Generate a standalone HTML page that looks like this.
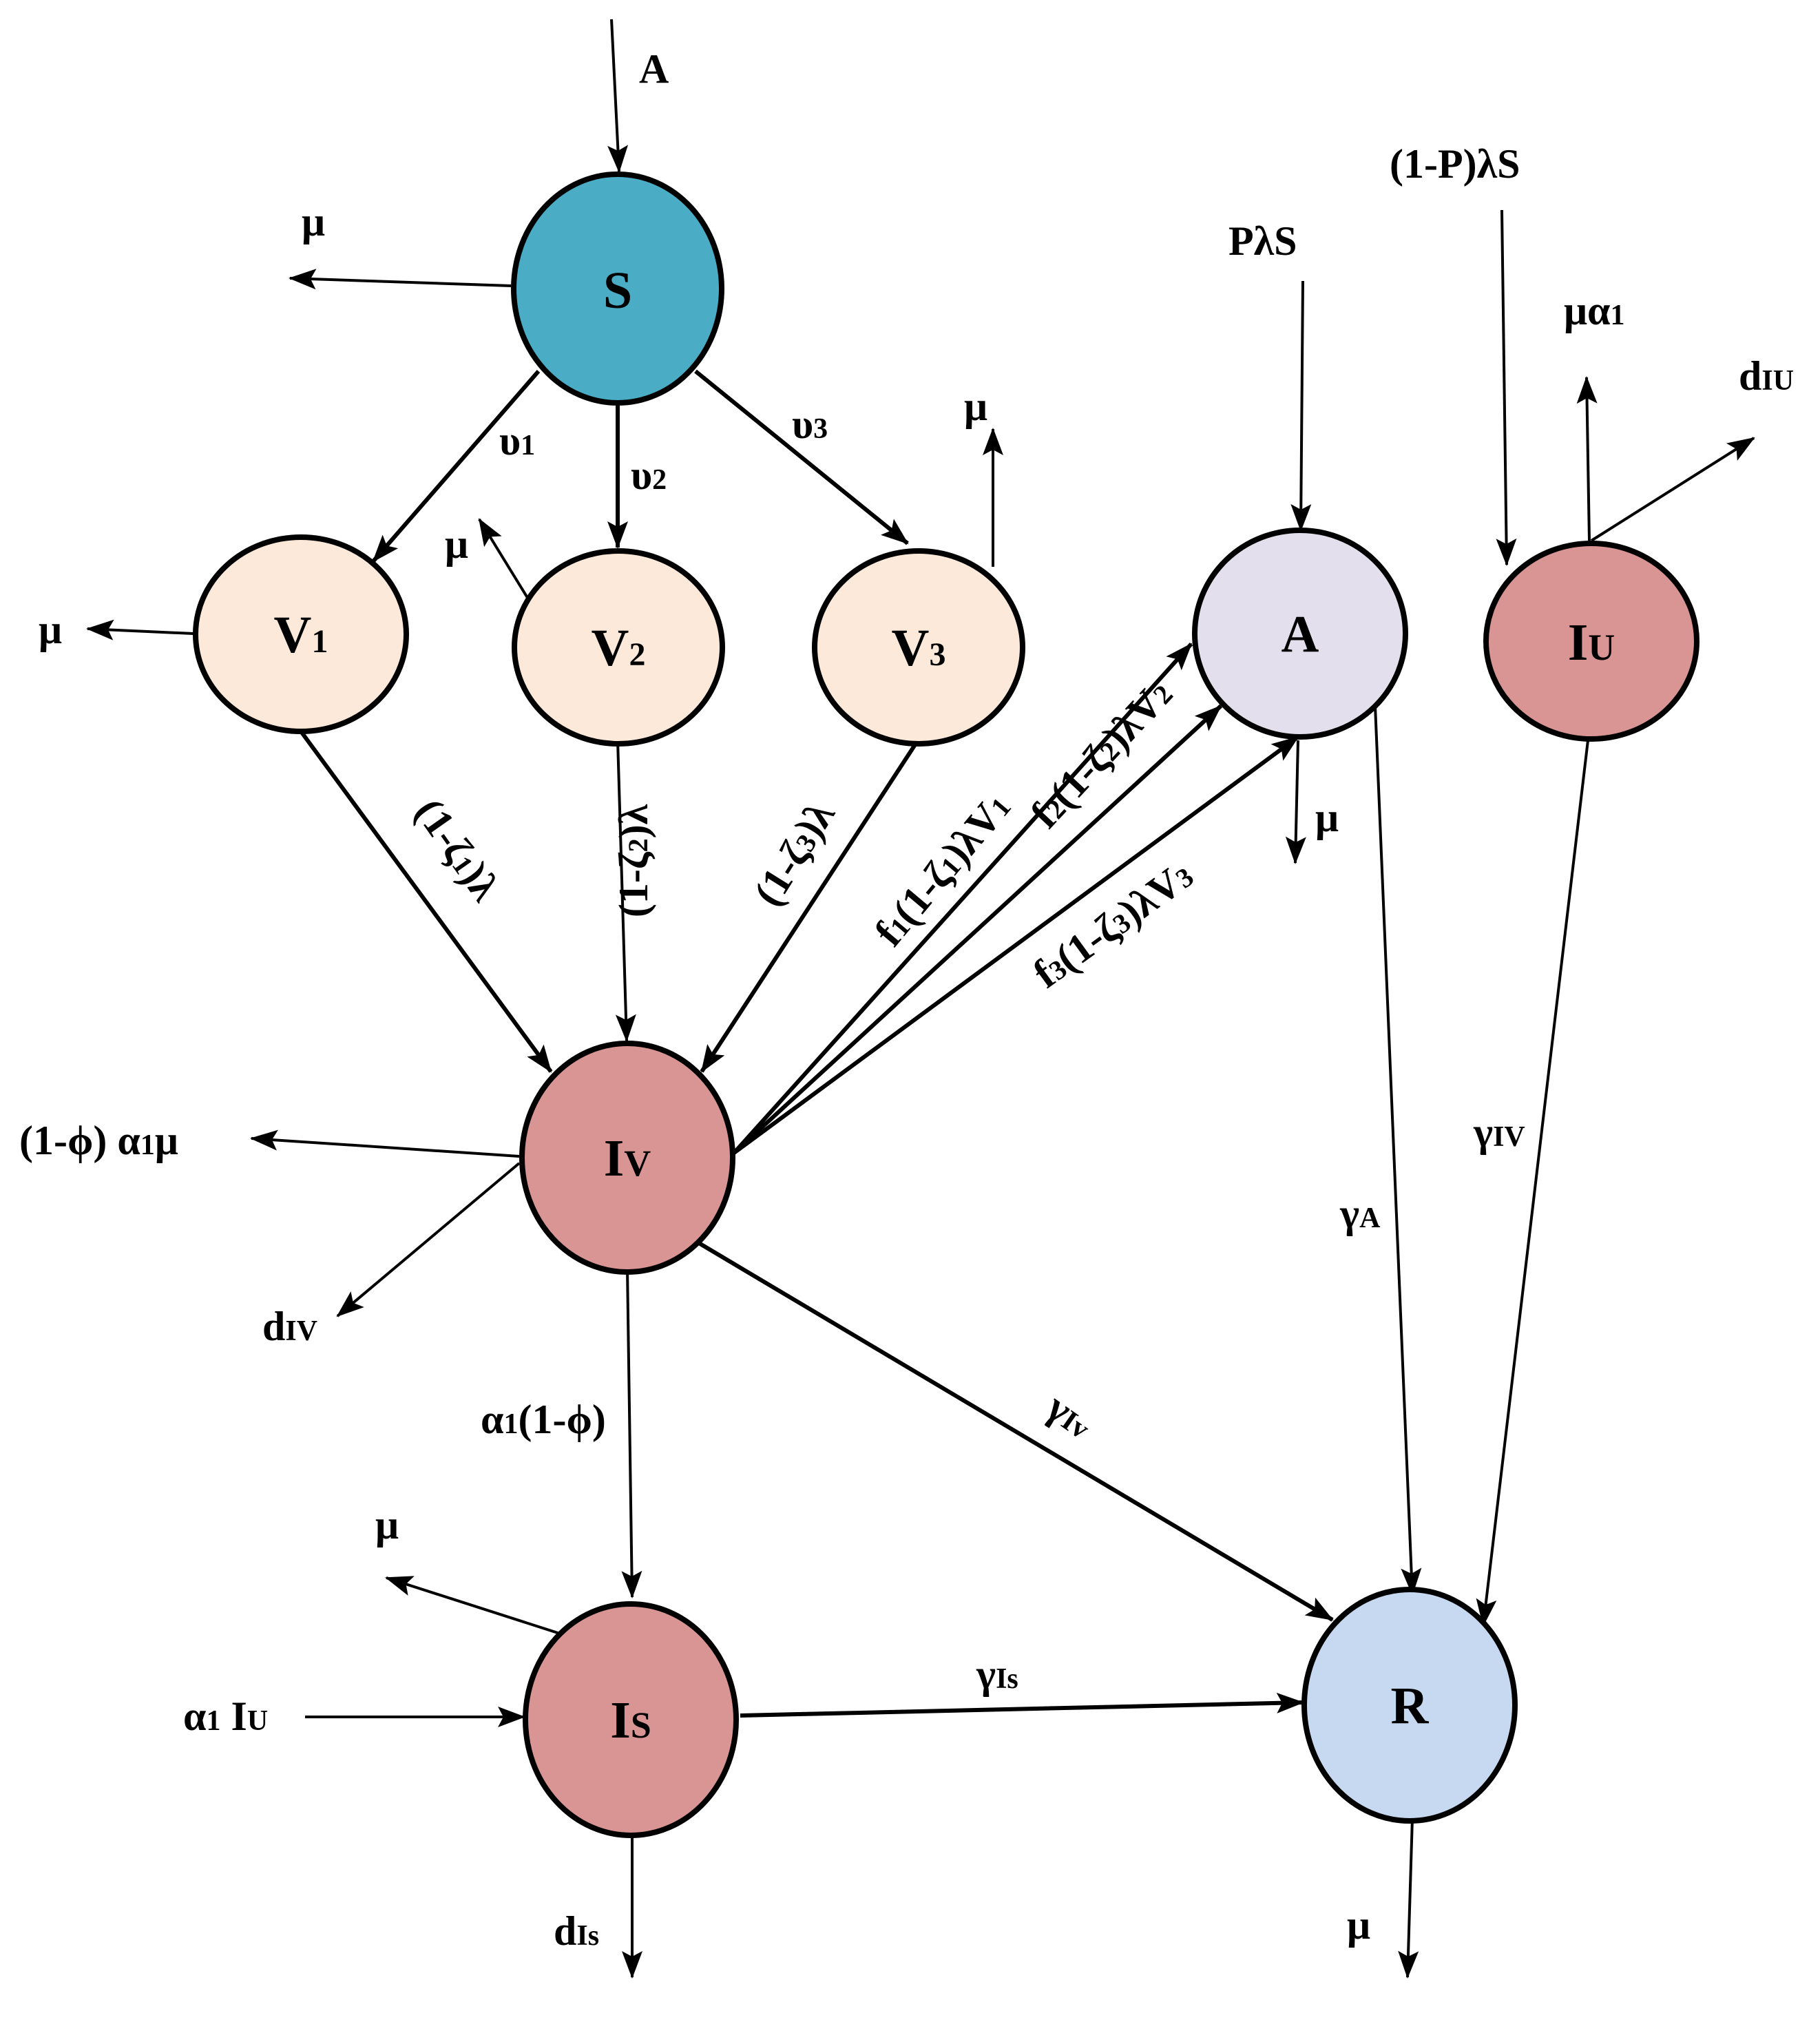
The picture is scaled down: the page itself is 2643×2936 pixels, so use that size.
<!DOCTYPE html>
<html><head><meta charset="utf-8"><style>
html,body{margin:0;padding:0;background:#fff}
svg{display:block}
text{font-family:"Liberation Serif",serif;font-weight:bold;fill:#000}
.n{font-size:76px}
.l{font-size:60px}
</style></head><body>
<svg width="2643" height="2936" viewBox="0 0 2643 2936" xmlns="http://www.w3.org/2000/svg">
<defs>
<marker id="a" markerUnits="userSpaceOnUse" markerWidth="40" markerHeight="30" refX="38" refY="15" orient="auto">
<path d="M0,0 L40,15 L0,30 L8,15 Z" fill="#000"/>
</marker>
</defs>
<g stroke="#000" fill="none" marker-end="url(#a)">
<g stroke-width="4">
<line x1="888" y1="28" x2="899" y2="249"/>
<line x1="742" y1="415" x2="421" y2="404"/>
<line x1="281" y1="920" x2="127" y2="913"/>
<line x1="782" y1="894" x2="696" y2="754"/>
<line x1="1442" y1="823" x2="1442" y2="623"/>
<line x1="1892" y1="408" x2="1889" y2="770"/>
<line x1="2181" y1="305" x2="2188" y2="820"/>
<line x1="2308" y1="785" x2="2304" y2="548"/>
<line x1="2311" y1="785" x2="2547" y2="636"/>
<line x1="1885" y1="1075" x2="1881" y2="1253"/>
<line x1="1997" y1="1025" x2="2051" y2="2315"/>
<line x1="2306" y1="1075" x2="2154" y2="2360"/>
<line x1="754" y1="1679" x2="365" y2="1653"/>
<line x1="754" y1="1689" x2="490" y2="1911"/>
<line x1="911" y1="1842" x2="918" y2="2319"/>
<line x1="810" y1="2371" x2="561" y2="2291"/>
<line x1="443" y1="2493" x2="761" y2="2493"/>
<line x1="918" y1="2660" x2="918" y2="2871"/>
<line x1="2051" y1="2640" x2="2044" y2="2871"/>
<line x1="897" y1="1075" x2="910" y2="1511"/>
</g>
<g stroke-width="6">
<line x1="782" y1="539" x2="542" y2="815"/>
<line x1="897" y1="583" x2="897" y2="795"/>
<line x1="1010" y1="539" x2="1318" y2="789"/>
<line x1="437" y1="1062" x2="800" y2="1556"/>
<line x1="1333" y1="1075" x2="1019" y2="1556"/>
<line x1="1066" y1="1674" x2="1730" y2="935"/>
<line x1="1066" y1="1674" x2="1773" y2="1025"/>
<line x1="1066" y1="1674" x2="1885" y2="1070"/>
<line x1="1015" y1="1805" x2="1935" y2="2352"/>
<line x1="1075" y1="2491" x2="1892" y2="2472"/>
</g>
</g>
<g stroke="#000" stroke-width="8">
<ellipse cx="897" cy="419" rx="151" ry="166" fill="#4bacc6"/>
<ellipse cx="437" cy="921" rx="153" ry="141" fill="#fde9d9"/>
<ellipse cx="898" cy="940" rx="151" ry="140" fill="#fde9d9"/>
<ellipse cx="1334" cy="940" rx="151" ry="140" fill="#fde9d9"/>
<ellipse cx="1888" cy="920" rx="153" ry="150" fill="#e4dfec"/>
<ellipse cx="2311" cy="931" rx="153" ry="142" fill="#d99594"/>
<ellipse cx="911" cy="1681" rx="153" ry="166" fill="#d99594"/>
<ellipse cx="916" cy="2497" rx="153" ry="168" fill="#d99594"/>
<ellipse cx="2047" cy="2476" rx="153" ry="168" fill="#c6d9f0"/>
</g>
<g class="n" text-anchor="middle">
<text x="897" y="447">S</text>
<text x="437" y="947">V<tspan font-size="48">1</tspan></text>
<text x="898" y="966">V<tspan font-size="48">2</tspan></text>
<text x="1334" y="966">V<tspan font-size="48">3</tspan></text>
<text x="1888" y="946">A</text>
<text x="2311" y="958">I<tspan font-size="54">U</tspan></text>
<text x="911" y="1707">I<tspan font-size="54">V</tspan></text>
<text x="916" y="2523">I<tspan font-size="54">S</tspan></text>
<text x="2047" y="2502">R</text>
</g>
<g class="l">
<text x="928" y="120">A</text>
<text x="438" y="342">μ</text>
<text x="725" y="660">υ<tspan font-size="42">1</tspan></text>
<text x="916" y="710">υ<tspan font-size="42">2</tspan></text>
<text x="1150" y="636">υ<tspan font-size="42">3</tspan></text>
<text x="56" y="934">μ</text>
<text x="646" y="810">μ</text>
<text x="1400" y="610">μ</text>
<text x="1784" y="370">PλS</text>
<text x="2018" y="258">(1-P)λS</text>
<text x="2271" y="471">μα<tspan font-size="42">1</tspan></text>
<text x="2525" y="566">d<tspan font-size="42">IU</tspan></text>
<text x="1910" y="1207">μ</text>
<text x="1946" y="1782">γ<tspan font-size="42">A</tspan></text>
<text x="2140" y="1664">γ<tspan font-size="42">IV</tspan></text>
<text x="28" y="1676">(1-ϕ) α<tspan font-size="42">1</tspan>μ</text>
<text x="381" y="1946">d<tspan font-size="42">IV</tspan></text>
<text x="698" y="2081">α<tspan font-size="42">1</tspan>(1-ϕ)</text>
<text x="545" y="2234">μ</text>
<text x="266" y="2512">α<tspan font-size="42">1</tspan> I<tspan font-size="42">U</tspan></text>
<text x="1418" y="2451">γ<tspan font-size="42">Is</tspan></text>
<text x="804" y="2824">d<tspan font-size="42">Is</tspan></text>
<text x="1956" y="2815">μ</text>
<text x="1518" y="2074" transform="rotate(35 1550 2060)">γ<tspan font-size="42">Iv</tspan></text>
</g>
<g class="l" text-anchor="middle">
<text transform="translate(648,1245) rotate(55)">(1-ζ<tspan font-size="40">1</tspan>)λ</text>
<text transform="translate(940,1250) rotate(-90)">(1-ζ<tspan font-size="40">2</tspan>)λ</text>
<text transform="translate(1170,1250) rotate(-58)">(1-ζ<tspan font-size="40">3</tspan>)λ</text>
<text transform="translate(1384,1275) rotate(-50)">f<tspan font-size="40">1</tspan>(1-ζ<tspan font-size="40">1</tspan>)λV<tspan font-size="40">1</tspan></text>
<text transform="translate(1614,1108) rotate(-47)">f<tspan font-size="40">2</tspan>(1-ζ<tspan font-size="40">2</tspan>)λV<tspan font-size="40">2</tspan></text>
<text transform="translate(1628,1358) rotate(-36)">f<tspan font-size="40">3</tspan>(1-ζ<tspan font-size="40">3</tspan>)λV<tspan font-size="40">3</tspan></text>
</g>
</svg>
</body></html>
